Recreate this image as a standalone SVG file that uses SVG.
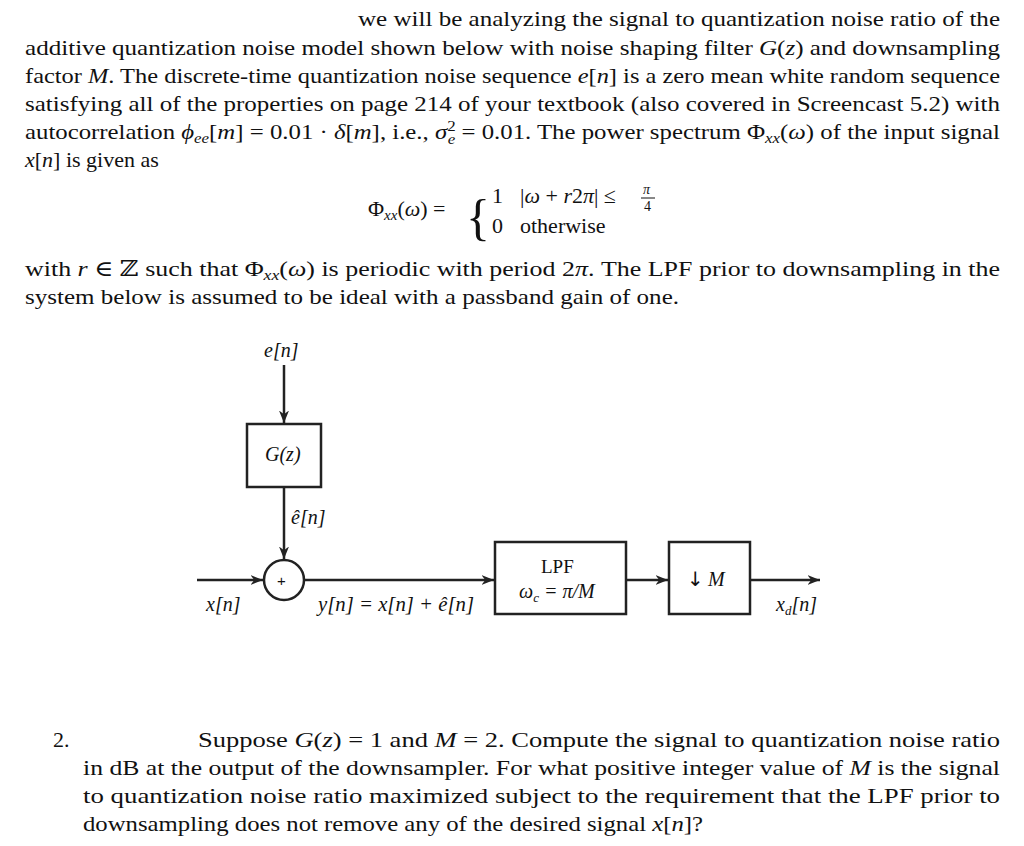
<svg xmlns="http://www.w3.org/2000/svg" width="1024" height="846" viewBox="0 0 1024 846">
<defs>
<style>
text{font-family:"Liberation Serif","DejaVu Serif",serif;font-size:22px;fill:#111}
.i{font-style:italic}
.s{font-size:15px}
.d{font-size:20px;font-style:italic}
.box{fill:#fff;stroke:#222;stroke-width:2.5}
.ln{stroke:#222;stroke-width:2.5;fill:none;marker-end:url(#a)}
</style>
<marker id="a" viewBox="0 0 10 10" refX="10" refY="5" markerWidth="5" markerHeight="5" orient="auto" markerUnits="strokeWidth"><path d="M0,1 L10,5 L0,9 L3,5 z" fill="#222"/></marker>
</defs>
<rect width="1024" height="846" fill="#fff"/>
<text x="358" y="26" textLength="642" lengthAdjust="spacingAndGlyphs">we will be analyzing the signal to quantization noise ratio of the</text>
<text x="25" y="55" textLength="975" lengthAdjust="spacingAndGlyphs">additive quantization noise model shown below with noise shaping filter <tspan class="i">G</tspan>(<tspan class="i">z</tspan>) and downsampling</text>
<text x="25" y="83" textLength="975" lengthAdjust="spacingAndGlyphs">factor <tspan class="i">M</tspan>. The discrete-time quantization noise sequence <tspan class="i">e</tspan>[<tspan class="i">n</tspan>] is a zero mean white random sequence</text>
<text x="25" y="111" textLength="975" lengthAdjust="spacingAndGlyphs">satisfying all of the properties on page 214 of your textbook (also covered in Screencast 5.2) with</text>
<text x="25" y="139" textLength="975" lengthAdjust="spacingAndGlyphs">autocorrelation <tspan class="i">ϕ</tspan><tspan class="i s" dy="4">ee</tspan><tspan dy="-4">[</tspan><tspan class="i">m</tspan>] = 0.01 · <tspan class="i">δ</tspan>[<tspan class="i">m</tspan>], i.e., <tspan class="i">σ</tspan><tspan class="s" dy="-8">2</tspan><tspan class="i s" dx="-7" dy="13">e</tspan><tspan dy="-5"> = 0.01. The power spectrum Φ</tspan><tspan class="i s" dy="4">xx</tspan><tspan dy="-4">(</tspan><tspan class="i">ω</tspan>) of the input signal</text>
<text x="25" y="167"><tspan class="i">x</tspan>[<tspan class="i">n</tspan>] is given as</text>
<text x="368" y="216">Φ<tspan class="i s" dy="4">xx</tspan><tspan dy="-4">(</tspan><tspan class="i">ω</tspan>) =</text>
<text x="466" y="234" style="font-size:50px;font-weight:100">{</text>
<text x="492" y="203">1</text>
<text x="520" y="203">|<tspan class="i">ω</tspan> + <tspan class="i">r</tspan>2<tspan class="i">π</tspan>| ≤</text>
<text x="643" y="194" class="i" style="font-size:14px">π</text>
<line x1="641" y1="198" x2="655" y2="198" stroke="#111" stroke-width="1"/>
<text x="644" y="211" style="font-size:14px">4</text>
<text x="492" y="233">0</text>
<text x="520" y="233">otherwise</text>
<text x="25" y="276" textLength="975" lengthAdjust="spacingAndGlyphs">with <tspan class="i">r</tspan> ∈ ℤ such that Φ<tspan class="i s" dy="4">xx</tspan><tspan dy="-4">(</tspan><tspan class="i">ω</tspan>) is periodic with period 2<tspan class="i">π</tspan>. The LPF prior to downsampling in the</text>
<text x="25" y="304" textLength="654" lengthAdjust="spacingAndGlyphs">system below is assumed to be ideal with a passband gain of one.</text>

<g id="connectors">
<line class="ln" x1="284" y1="365" x2="284" y2="423"/>
<line class="ln" x1="284" y1="487" x2="284" y2="559"/>
<line class="ln" x1="197" y1="580" x2="263" y2="580"/>
<line class="ln" x1="304" y1="580" x2="494" y2="580"/>
<line class="ln" x1="627" y1="580" x2="668" y2="580"/>
<line class="ln" x1="751" y1="580" x2="820" y2="580"/>
</g>
<g id="e"><text x="264" y="357" class="d">e[n]</text></g>
<g id="G"><rect class="box" x="247" y="424" width="74" height="63"/><text x="265" y="461" class="d">G(z)</text></g>
<g id="ehat"><text x="291" y="524" class="d">ê[n]</text></g>
<g id="sum"><circle cx="284" cy="580" r="20" fill="#fff" stroke="#222" stroke-width="2.5"/><text x="277" y="586" style="font-size:15px;font-family:'Liberation Sans',sans-serif">+</text></g>
<g id="x"><text x="206" y="611" class="d">x[n]</text></g>
<g id="y"><text x="318" y="611" class="d" textLength="156" lengthAdjust="spacingAndGlyphs">y[n] = x[n] + ê[n]</text></g>
<g id="LPF"><rect class="box" x="495" y="542" width="131" height="72"/><text x="541" y="573" style="font-size:19px">LPF</text><text x="519" y="598" class="d">ω<tspan style="font-size:13px" dy="4">c</tspan><tspan dy="-4"> = π/M</tspan></text></g>
<g id="down"><rect class="box" x="669" y="542" width="81" height="72"/><text x="687" y="586" style="font-size:20px;font-family:'DejaVu Sans',sans-serif">↓</text><text x="708" y="586" class="d">M</text></g>
<g id="xd"><text x="776" y="611" class="d">x<tspan style="font-size:13px" dy="4">d</tspan><tspan dy="-4">[n]</tspan></text></g>

<text x="53" y="747">2.</text>
<text x="198" y="747" textLength="802" lengthAdjust="spacingAndGlyphs">Suppose <tspan class="i">G</tspan>(<tspan class="i">z</tspan>) = 1 and <tspan class="i">M</tspan> = 2. Compute the signal to quantization noise ratio</text>
<text x="83" y="775" textLength="917" lengthAdjust="spacingAndGlyphs">in dB at the output of the downsampler. For what positive integer value of <tspan class="i">M</tspan> is the signal</text>
<text x="83" y="803" textLength="917" lengthAdjust="spacingAndGlyphs">to quantization noise ratio maximized subject to the requirement that the LPF prior to</text>
<text x="83" y="831" textLength="620" lengthAdjust="spacingAndGlyphs">downsampling does not remove any of the desired signal <tspan class="i">x</tspan>[<tspan class="i">n</tspan>]?</text>
</svg>
